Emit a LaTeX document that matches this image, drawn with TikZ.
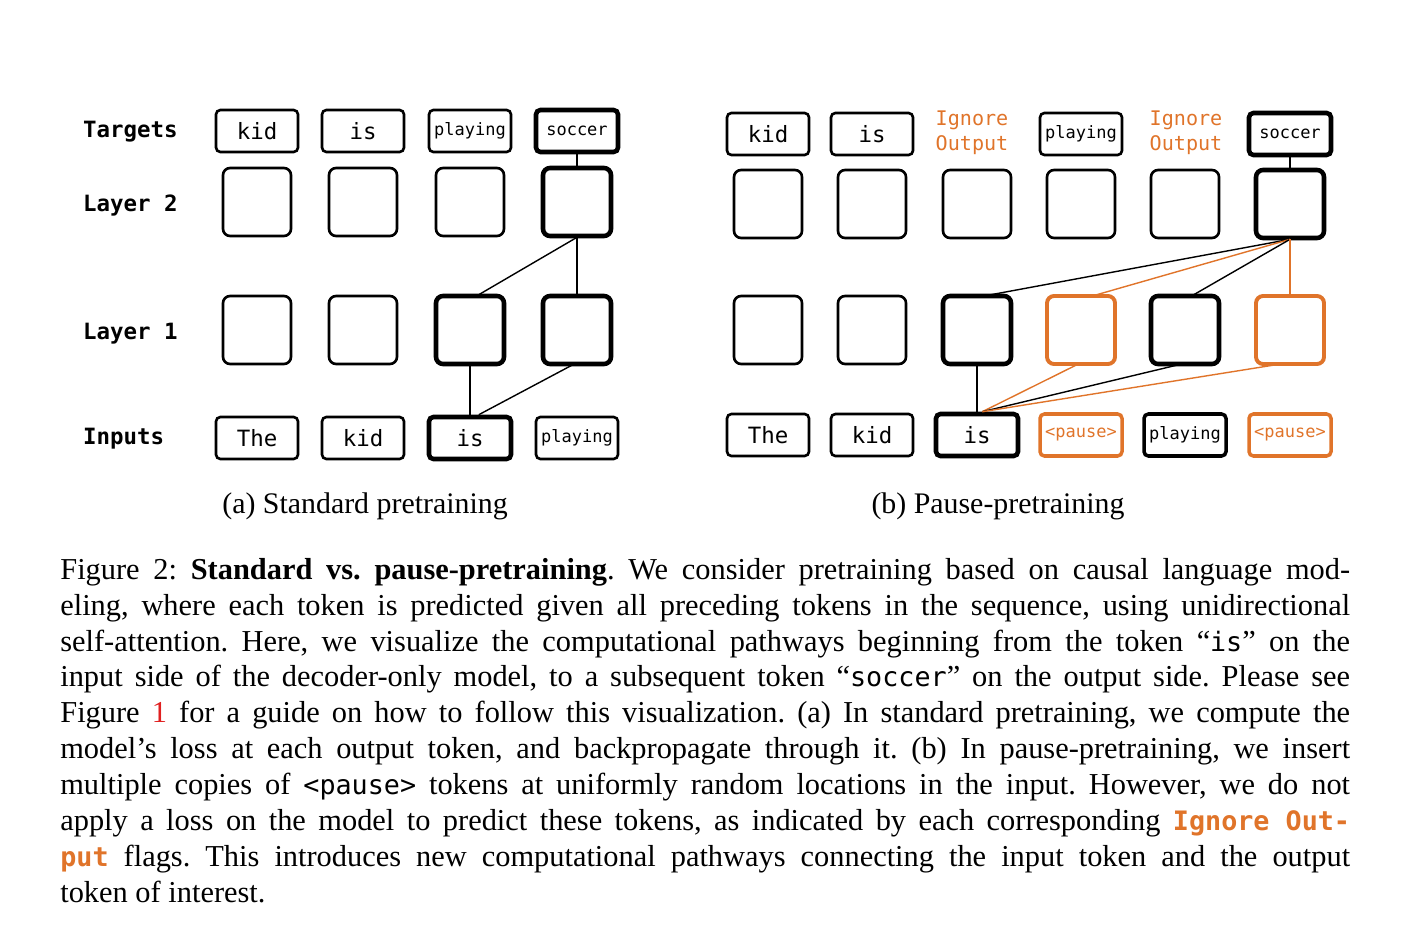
\documentclass[tikz,border=0pt]{standalone}
\usepackage{fontspec}
\setmainfont{Liberation Serif}
\setmonofont[Scale=0.88]{DejaVu Sans Mono}
\definecolor{pauseorange}{HTML}{E0742A}
\definecolor{figred}{HTML}{E02020}
\tikzset{
  tok/.style={draw, rounded corners=2.5pt, line width=1.5pt, minimum width=1.64cm, minimum height=0.84cm, inner sep=0pt, font=\ttfamily\fontsize{14.5}{14}\selectfont},
  cell/.style={draw, rounded corners=4pt, line width=1.5pt, minimum width=1.36cm, minimum height=1.36cm},
  hot/.style={line width=2.6pt},
  lbl/.style={anchor=west, font=\ttfamily\bfseries\fontsize{14.5}{14}\selectfont},
  small/.style={font=\ttfamily\fontsize{11}{11}\selectfont},
  path/.style={line width=0.8pt},
  opath/.style={line width=0.8pt, pauseorange}
}
\begin{document}
\begin{tikzpicture}[x=0.02cm,y=-0.02cm]
\useasboundingbox (0,0) rectangle (1422,942);

% row labels
\node[lbl] (tgt) at (77,132) {Targets};
\node[lbl] (ltwo) at (77,206) {Layer 2};
\node[lbl] (lone) at (77,334) {Layer 1};
\node[lbl] (inp) at (77,439) {Inputs};

% (a) standard pretraining
\node[tok] (at1) at (257,131) {kid};
\node[tok] (at2) at (363,131) {is};
\node[tok, small] (at3) at (470,131) {playing};
\node[tok, small, hot] (at4) at (577,131) {soccer};
\foreach \x [count=\i] in {257,363,470,577} {
  \node[cell] (ab\i) at (\x,202) {};
  \node[cell] (aa\i) at (\x,330) {};
}
\node[cell, hot] at (ab4) {};
\node[cell, hot] at (aa3) {};
\node[cell, hot] at (aa4) {};
\node[tok] (ai1) at (257,438) {The};
\node[tok] (ai2) at (363,438) {kid};
\node[tok, hot] (ai3) at (470,438) {is};
\node[tok, small] (ai4) at (577,438) {playing};

\draw[path] (at4.south) -- (ab4.north);
\draw[path] (ab4.south) -- ([xshift=5]aa3.north);
\draw[path] (ab4.south) -- (aa4.north);
\draw[path] (aa3.south) -- (ai3.north);
\draw[path] ([xshift=-3]aa4.south) -- ([xshift=5]ai3.north);

\node (capa) at (365,506) {\fontsize{17}{20}\selectfont (a) Standard pretraining};

% (b) pause-pretraining
\node[tok] (bt1) at (768,134) {kid};
\node[tok] (bt2) at (872,134) {is};
\node[align=left, pauseorange, font=\ttfamily\fontsize{13}{14.5}\selectfont] (bt3) at (972,133) {Ignore\\Output};
\node[tok, small] (bt4) at (1081,134) {playing};
\node[align=left, pauseorange, font=\ttfamily\fontsize{13}{14.5}\selectfont] (bt5) at (1186,133) {Ignore\\Output};
\node[tok, small, hot] (bt6) at (1290,134) {soccer};
\foreach \x [count=\i] in {768,872,977,1081,1185,1290} {
  \node[cell] (bb\i) at (\x,204) {};
  \node[cell] (ba\i) at (\x,330) {};
}
\node[cell, hot] at (bb6) {};
\node[cell, hot] at (ba3) {};
\node[cell, hot] at (ba5) {};
\node[cell, pauseorange, line width=2.2pt] at (ba4) {};
\node[cell, pauseorange, line width=2.2pt] at (ba6) {};
\node[tok] (bi1) at (768,435) {The};
\node[tok] (bi2) at (872,435) {kid};
\node[tok, hot] (bi3) at (977,435) {is};
\node[tok, small, pauseorange, line width=2pt] (bi4) at (1081,435) {<pause>};
\node[tok, small, line width=2pt] (bi5) at (1185,435) {playing};
\node[tok, small, pauseorange, line width=2pt] (bi6) at (1290,435) {<pause>};

\draw[path] (bt6.south) -- (bb6.north);
\draw[path] (bb6.south) -- ([xshift=8]ba3.north);
\draw[opath] (bb6.south) -- ([xshift=9]ba4.north);
\draw[path] (bb6.south) -- ([xshift=5]ba5.north);
\draw[opath] (bb6.south) -- (ba6.north);
\draw[path] (ba3.south) -- (bi3.north);
\draw[opath] ([xshift=-3]ba4.south) -- ([xshift=3]bi3.north);
\draw[path] ([xshift=-5]ba5.south) -- ([xshift=3]bi3.north);
\draw[opath] ([xshift=-10]ba6.south) -- ([xshift=3]bi3.north);

\node (capb) at (998,506) {\fontsize{17}{20}\selectfont (b) Pause-pretraining};

% figure caption
\node[anchor=north west, inner sep=0pt, text width=25.8cm, align=justify,
  font=\fontsize{17.3}{20.4}\selectfont\frenchspacing] (cap) at (60,558) {%
Figure 2: \textbf{Standard vs. pause-pretraining}. We consider pretraining based on causal language mod-\linebreak
eling, where each token is predicted given all preceding tokens in the sequence, using unidirectional\linebreak
self-attention. Here, we visualize the computational pathways beginning from the token “\texttt{is}” on the\linebreak
input side of the decoder-only model, to a subsequent token “\texttt{soccer}” on the output side. Please see\linebreak
Figure \textcolor{figred}{1} for a guide on how to follow this visualization. (a) In standard pretraining, we compute the\linebreak
model’s loss at each output token, and backpropagate through it. (b) In pause-pretraining, we insert\linebreak
multiple copies of \texttt{<pause>} tokens at uniformly random locations in the input. However, we do not\linebreak
apply a loss on the model to predict these tokens, as indicated by each corresponding \textcolor{pauseorange}{\texttt{\bfseries Ignore Out-}}\linebreak
\textcolor{pauseorange}{\texttt{\bfseries put}} flags. This introduces new computational pathways connecting the input token and the output\linebreak
token of interest.};
\end{tikzpicture}
\end{document}
